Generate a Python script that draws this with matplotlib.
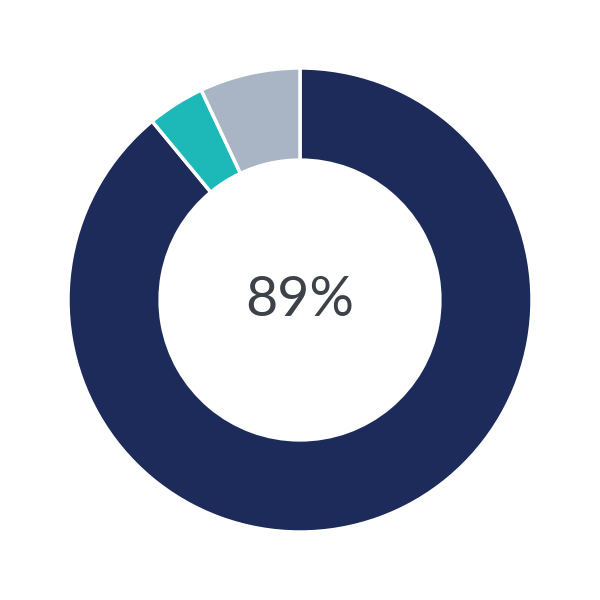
import matplotlib
matplotlib.use("Agg")
import matplotlib.pyplot as plt

labels = ["Main", "Teal", "Gray"]
values = [89, 4, 7]
colors = ["#1c2b5a", "#1db8b8", "#a9b4c4"]
center_label = "89%"

fig = plt.figure(figsize=(6, 6), dpi=100)
ax = fig.add_axes([0, 0, 1, 1])
ax.pie(values, colors=colors, startangle=90, counterclock=False,
       radius=1.0, wedgeprops=dict(width=0.397, edgecolor="white", linewidth=2.5))
ax.text(0, 0, center_label, ha="center", va="center", fontsize=40,
        color="#3c4248", family=["Lato", "DejaVu Sans"])
ax.set_xlim(-1.293, 1.293)
ax.set_ylim(-1.293, 1.293)
ax.set_aspect("equal")
ax.axis("off")
fig.savefig("out.png", dpi=100, facecolor="white")
